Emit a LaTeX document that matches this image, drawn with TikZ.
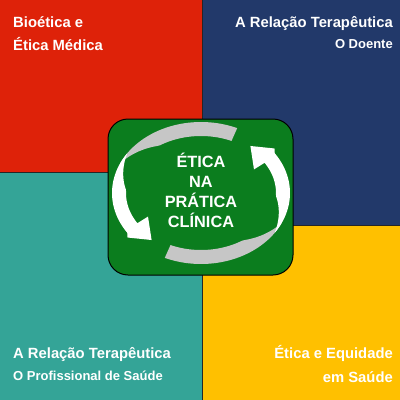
\documentclass[tikz,border=0pt]{standalone}
\usepackage{fontspec}
\setmainfont{Liberation Sans}
\usepackage{tikz}

\definecolor{quadred}{HTML}{DE2209}
\definecolor{quadnavy}{HTML}{22396A}
\definecolor{quadteal}{HTML}{34A497}
\definecolor{quadyellow}{HTML}{FFC000}
\definecolor{boxgreen}{HTML}{0B7D1E}
\definecolor{arrowgray}{HTML}{C6C6C6}

\tikzset{
  quadtext/.style={text=white, inner sep=0pt, font=\bfseries\fontsize{14.8}{17}\selectfont},
  quadsub/.style={text=white, inner sep=0pt, font=\bfseries\fontsize{13}{15}\selectfont},
  titletext/.style={text=white, inner sep=0pt, align=center, font=\bfseries\fontsize{16.3}{20}\selectfont},
  splitline/.style={black!85, line width=1pt},
}

\begin{document}
\begin{tikzpicture}[x=1pt, y=-1pt]
  \useasboundingbox (0,0) rectangle (400,400);
  % quadrants
  \fill[quadred] (0,0) rectangle (202,172);
  \fill[quadnavy] (202,0) rectangle (400,225);
  \fill[quadteal] (0,172) rectangle (202,400);
  \fill[quadyellow] (202,225) rectangle (400,400);
  \draw[splitline] (202,0) -- (202,400);
  \draw[splitline] (0,172) -- (202,172);
  \draw[splitline] (202,225) -- (400,225);
  % centre box
  \draw[fill=boxgreen, line width=1pt, rounded corners=20pt] (108,119) rectangle (293,275);
  % first arrow: grey back over the top, white front down the left
  \fill[arrowgray] plot[domain=66:155, samples=40] ({201+89*cos(\x)},{193-71*sin(\x)})
    -- plot[domain=155:66, samples=40] ({201+(89-min(14,0.45*(155-\x)))*cos(\x)},{193-(71-min(14,0.45*(155-\x)))*sin(\x)})
    -- cycle;
  \fill[white] plot[domain=146:214, samples=40] ({201+89*cos(\x)},{193-71*sin(\x)})
    -- ({201+92*cos(217)},{193-74*sin(217)})
    -- ({201+78.5*cos(231)},{193-60.5*sin(231)})
    -- ({201+62.5*cos(212)},{193-44.5*sin(212)})
    -- plot[domain=212:146, samples=40] ({201+(89-min(14,0.45*(\x-146)))*cos(\x)},{193-(71-min(14,0.45*(\x-146)))*sin(\x)})
    -- cycle;
  % second arrow, turned half way round
  \begin{scope}[rotate around={180:(201,193)}]
    \fill[arrowgray] plot[domain=66:155, samples=40] ({201+89*cos(\x)},{193-71*sin(\x)})
      -- plot[domain=155:66, samples=40] ({201+(89-min(14,0.45*(155-\x)))*cos(\x)},{193-(71-min(14,0.45*(155-\x)))*sin(\x)})
      -- cycle;
    \fill[white] plot[domain=146:214, samples=40] ({201+89*cos(\x)},{193-71*sin(\x)})
      -- ({201+92*cos(217)},{193-74*sin(217)})
      -- ({201+78.5*cos(231)},{193-60.5*sin(231)})
      -- ({201+62.5*cos(212)},{193-44.5*sin(212)})
      -- plot[domain=212:146, samples=40] ({201+(89-min(14,0.45*(\x-146)))*cos(\x)},{193-(71-min(14,0.45*(\x-146)))*sin(\x)})
      -- cycle;
  \end{scope}
  % texts
  \node[titletext] (title) at (201,190.8) {ÉTICA\\NA\\PRÁTICA\\CLÍNICA};
  \node[quadtext, anchor=base west] (bioa) at (13,27) {Bioética e};
  \node[quadtext, anchor=base west] (biob) at (13,50) {Ética Médica};
  \node[quadtext, anchor=base east] (doentea) at (393,27) {A Relação Terapêutica};
  \node[quadsub, anchor=base east] (doenteb) at (393,48) {O Doente};
  \node[quadtext, anchor=base west] (profa) at (13,358) {A Relação Terapêutica};
  \node[quadsub, anchor=base west] (profb) at (13,380) {O Profissional de Saúde};
  \node[quadtext, anchor=base east] (equia) at (393,358) {Ética e Equidade};
  \node[quadtext, anchor=base east] (equib) at (393,382) {em Saúde};
\end{tikzpicture}
\end{document}
